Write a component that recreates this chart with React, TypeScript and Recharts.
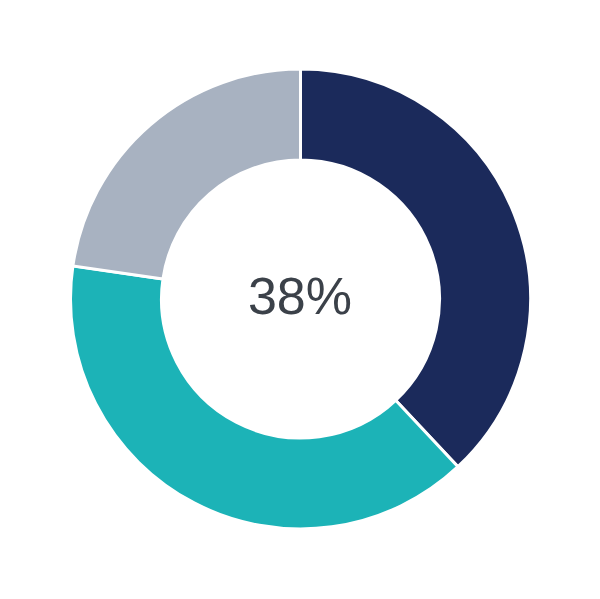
import React from 'react';
import { PieChart, Pie, Cell } from 'recharts';

const segments = ['Share', 'Second', 'Rest'];
const values = [38, 39.3, 22.7];
const colors = ['#1b2a5b', '#1cb3b7', '#a8b2c1'];
const centerLabel = '38%';

const data = segments.map((name, i) => ({ name, value: values[i] }));

export default function App() {
  return (
    <div style={{ position: 'absolute', left: 0, top: 0, width: 600, height: 599, background: '#fff' }}>
      <PieChart width={600} height={599} margin={{ top: 0, right: 0, bottom: 0, left: 0 }}>
        <Pie
          data={data}
          dataKey="value"
          nameKey="name"
          cx={300.5}
          cy={299}
          innerRadius={139}
          outerRadius={230}
          startAngle={90}
          endAngle={-270}
          stroke="#ffffff"
          strokeWidth={3}
          isAnimationActive={false}
        >
          {data.map((d, i) => (
            <Cell key={d.name} fill={colors[i]} />
          ))}
        </Pie>
        <text
          x={300}
          y={314}
          textAnchor="middle"
          fontFamily="'Liberation Sans', Arial, sans-serif"
          fontSize={52}
          fill="#3b4149"
        >
          {centerLabel}
        </text>
      </PieChart>
    </div>
  );
}
